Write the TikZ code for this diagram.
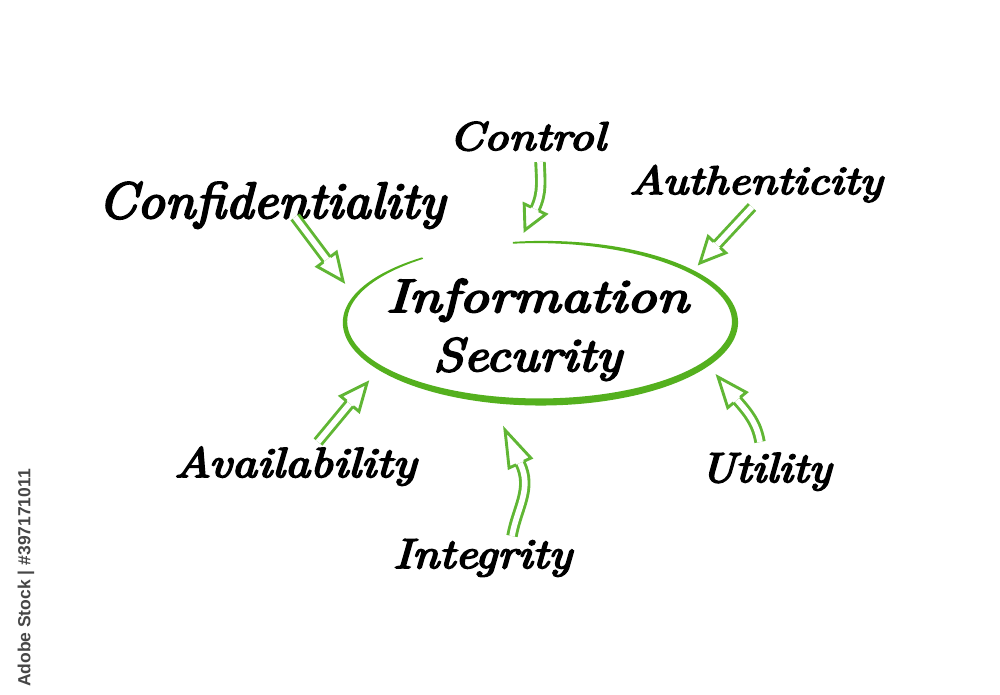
\documentclass[tikz,border=0pt]{standalone}
\usepackage{fontspec}
\newfontfamily\wmfont{Liberation Sans}
\newfontface\handfont{lmroman10-italic.otf}[FakeBold=4]
\usetikzlibrary{calc}
\definecolor{arrgreen}{RGB}{96,182,52}
\definecolor{ringgreen}{RGB}{84,176,30}
\definecolor{wmgray}{RGB}{70,70,70}
\newcommand\ahead[2]{\draw[headline] ($(#1)!4.3pt!90:(#2)$) -- ($(#1)!12pt!90:(#2)$) -- (#2) -- ($(#1)!12pt!-90:(#2)$) -- ($(#1)!4.3pt!-90:(#2)$);}
\newcommand\handsz[1]{\handfont\fontsize{#1}{#1}\selectfont}
\begin{document}
\begin{tikzpicture}[x=1pt,y=-1pt,
  lbl/.style={inner sep=0pt, anchor=base west},
  shaft/.style={draw=arrgreen, line width=2.9pt, double=white, double distance=5.6pt},
  headline/.style={draw=arrgreen, line width=2.9pt, line join=miter}]
\fill[white] (0,0) rectangle (1000,695);
\useasboundingbox (0,0) rectangle (1000,695);
% ring
\def\hw{(0.9+2.7*sin((\x-127)*0.5438))}
\fill[ringgreen] plot[domain=127:458,samples=150] ({540+(195+\hw)*cos(\x)},{322-(80+\hw)*sin(\x)})
  -- plot[domain=458:127,samples=150] ({540+(195-\hw)*cos(\x)},{322-(80-\hw)*sin(\x)}) -- cycle;
% labels
\node[lbl, font=\handsz{47}, xscale=1.23] (info) at (386,312) {Information};
\node[lbl, font=\handsz{47}, xscale=1.14] (secu) at (433,371) {Security};
\node[lbl, font=\handsz{40}, xscale=1.2] (ctrl) at (449,150) {Control};
\node[lbl, font=\handsz{51}, xscale=1.06] (conf) at (98,218) {Confidentiality};
\node[lbl, font=\handsz{40}, xscale=1.19] (auth) at (629,194) {Authenticity};
\node[lbl, font=\handsz{42}, xscale=1.18] (avail) at (174,477) {Availability};
\node[lbl, font=\handsz{42}, xscale=1.15] (integ) at (393,568) {Integrity};
\node[lbl, font=\handsz{42}, xscale=1.13] (util) at (700,482) {Utility};
\node[font=\wmfont\bfseries\fontsize{17.5}{20}\selectfont, text=wmgray, rotate=90, inner sep=0pt] (wm) at (26,578) {Adobe Stock | \#397171011};
% arrow coordinates
\coordinate (s1) at (295,217); \coordinate (t1) at (343,281);
\coordinate (s2) at (540,162); \coordinate (t2) at (525,230); \coordinate (b2) at (535,209);
\coordinate (s3) at (752,207); \coordinate (t3) at (700,263);
\coordinate (s4) at (318,442); \coordinate (t4) at (367,383);
\coordinate (s5) at (512,536); \coordinate (t5) at (505,430); \coordinate (b5) at (520,463);
\coordinate (s6) at (760,442); \coordinate (t6) at (718,377); \coordinate (b6) at (737,400);
\coordinate (b1) at ($(t1)!27pt!(s1)$);
\coordinate (b3) at ($(t3)!25pt!(s3)$);
\coordinate (b4) at ($(t4)!27pt!(s4)$);
% arrows
\draw[shaft] (s1) -- (b1); \ahead{b1}{t1}
\draw[shaft] (s2) to[out=-88,in=65] (b2); \ahead{b2}{t2}
\draw[shaft] (s3) -- (b3); \ahead{b3}{t3}
\draw[shaft] (s4) -- (b4); \ahead{b4}{t4}
\draw[shaft] (s5) to[out=80,in=-64] (b5); \ahead{b5}{t5}
\draw[shaft] (s6) to[out=100,in=-49] (b6); \ahead{b6}{t6}
\end{tikzpicture}
\end{document}
